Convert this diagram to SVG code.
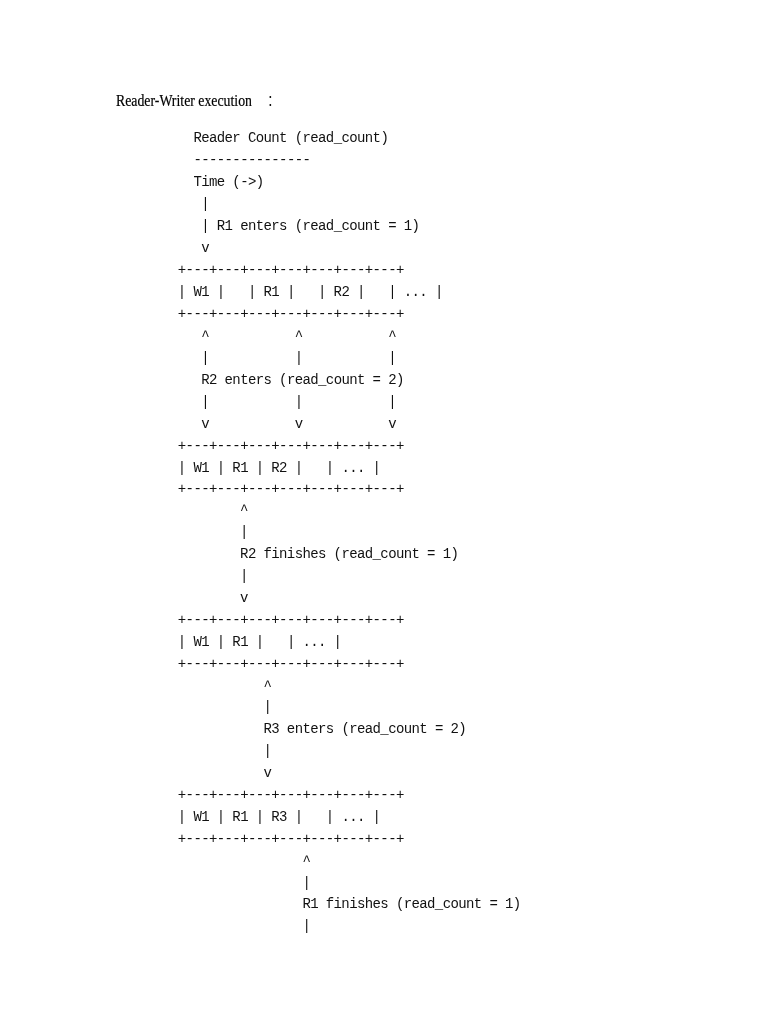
<svg xmlns="http://www.w3.org/2000/svg" width="768" height="1024" viewBox="0 0 768 1024" xml:space="preserve">
<style>
.m{font-family:"Liberation Mono","DejaVu Sans Mono",monospace;font-size:14px;letter-spacing:-0.61px;fill:#111;white-space:pre}
.t{font-family:"Liberation Serif",serif;font-size:16.5px;fill:#000;stroke:#000;stroke-width:0.2px}
.c{font-family:"Noto Sans CJK TC","Noto Sans CJK SC",sans-serif;font-size:14px;stroke-width:0}
</style>
<defs><filter id="g" x="0" y="0" width="1" height="1"><feOffset dx="0" dy="0"/></filter></defs>
<rect width="768" height="1024" fill="#fff"/>
<g filter="url(#g)">
<g id="title">
<text class="t" transform="translate(116,106) scale(0.837,1)" x="0" y="0">Reader-Writer execution<tspan class="c" x="177.4">：</tspan></text>
</g>
<g id="header">
<text class="m" x="193.4" y="142">Reader Count (read_count)</text>
<text class="m" x="193.4" y="164">---------------</text>
<text class="m" x="193.4" y="186">Time (-&gt;)</text>
</g>
<g id="connectors">
<text class="m" x="201.2" y="208">|</text>
<text class="m" x="201.2" y="230">| R1 enters (read_count = 1)</text>
<text class="m" x="201.2" y="252">v</text>
<text class="m" x="201.2" y="340">^           ^           ^</text>
<text class="m" x="201.2" y="362">|           |           |</text>
<text class="m" x="201.2" y="384">R2 enters (read_count = 2)</text>
<text class="m" x="201.2" y="406">|           |           |</text>
<text class="m" x="201.2" y="428">v           v           v</text>
<text class="m" x="240.1" y="514">^</text>
<text class="m" x="240.1" y="536">|</text>
<text class="m" x="240.1" y="558">R2 finishes (read_count = 1)</text>
<text class="m" x="240.1" y="580">|</text>
<text class="m" x="240.1" y="602">v</text>
<text class="m" x="263.5" y="690">^</text>
<text class="m" x="263.5" y="711">|</text>
<text class="m" x="263.5" y="733">R3 enters (read_count = 2)</text>
<text class="m" x="263.5" y="755">|</text>
<text class="m" x="263.5" y="777">v</text>
<text class="m" x="302.4" y="865">^</text>
<text class="m" x="302.4" y="887">|</text>
<text class="m" x="302.4" y="908">R1 finishes (read_count = 1)</text>
<text class="m" x="302.4" y="930">|</text>
</g>
<g id="state1">
<text class="m" x="177.8" y="274">+---+---+---+---+---+---+---+</text>
<text class="m" x="177.8" y="296">| W1 |   | R1 |   | R2 |   | ... |</text>
<text class="m" x="177.8" y="318">+---+---+---+---+---+---+---+</text>
</g>
<g id="state2">
<text class="m" x="177.8" y="450">+---+---+---+---+---+---+---+</text>
<text class="m" x="177.8" y="472">| W1 | R1 | R2 |   | ... |</text>
<text class="m" x="177.8" y="493">+---+---+---+---+---+---+---+</text>
</g>
<g id="state3">
<text class="m" x="177.8" y="624">+---+---+---+---+---+---+---+</text>
<text class="m" x="177.8" y="646">| W1 | R1 |   | ... |</text>
<text class="m" x="177.8" y="668">+---+---+---+---+---+---+---+</text>
</g>
<g id="state4">
<text class="m" x="177.8" y="799">+---+---+---+---+---+---+---+</text>
<text class="m" x="177.8" y="821">| W1 | R1 | R3 |   | ... |</text>
<text class="m" x="177.8" y="843">+---+---+---+---+---+---+---+</text>
</g>
</g>
</svg>
